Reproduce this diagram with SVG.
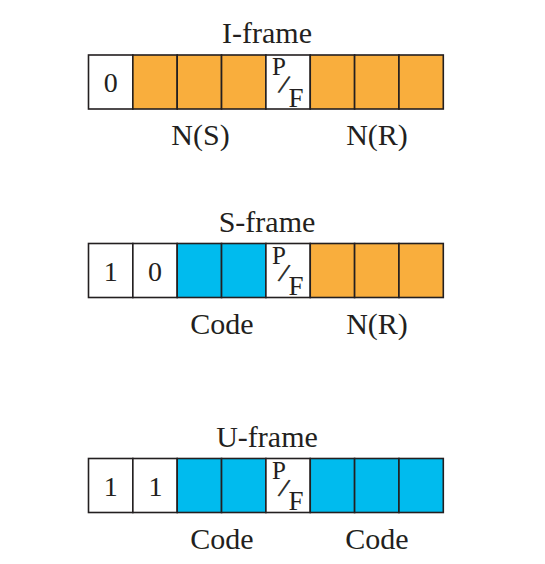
<svg xmlns="http://www.w3.org/2000/svg" width="545" height="564" viewBox="0 0 545 564">
<style>
text{font-family:"Liberation Serif","Times New Roman",serif;font-size:30px;fill:#231f20;text-anchor:middle}
.d{font-size:28px}
.p{font-size:25px}
.f{font-size:27px}
.s{font-size:27px;stroke:#231f20;stroke-width:0.5}
.c{stroke:#231f20;stroke-width:1.6}
.w{fill:#ffffff}
.o{fill:#f9ae3d}
.b{fill:#00bbee}
</style>
<defs>
<g id="pfmark">
<text class="p" x="279" y="20">P</text>
<text class="s" x="0" y="0" transform="translate(281.5,38) rotate(16)">/</text>
<text class="f" x="296" y="51.5">F</text>
</g>
</defs>
<rect width="545" height="564" fill="#ffffff"/>
<g id="iframe" transform="translate(0,55)">
<text x="267" y="-12">I-frame</text>
<rect class="c w" x="88.5" y="0" width="44.35" height="54"/>
<rect class="c o" x="132.85" y="0" width="44.35" height="54"/>
<rect class="c o" x="177.2" y="0" width="44.35" height="54"/>
<rect class="c o" x="221.55" y="0" width="44.35" height="54"/>
<rect class="c w" x="265.9" y="0" width="44.35" height="54"/>
<rect class="c o" x="310.25" y="0" width="44.35" height="54"/>
<rect class="c o" x="354.6" y="0" width="44.35" height="54"/>
<rect class="c o" x="398.95" y="0" width="44.35" height="54"/>
<text class="d" x="110.7" y="37">0</text>
<use href="#pfmark"/>
<text x="200.5" y="90">N(S)</text>
<text x="377" y="90">N(R)</text>
</g>
<g id="sframe" transform="translate(0,243.5)">
<text x="267" y="-12">S-frame</text>
<rect class="c w" x="88.5" y="0" width="44.35" height="54"/>
<rect class="c w" x="132.85" y="0" width="44.35" height="54"/>
<rect class="c b" x="177.2" y="0" width="44.35" height="54"/>
<rect class="c b" x="221.55" y="0" width="44.35" height="54"/>
<rect class="c w" x="265.9" y="0" width="44.35" height="54"/>
<rect class="c o" x="310.25" y="0" width="44.35" height="54"/>
<rect class="c o" x="354.6" y="0" width="44.35" height="54"/>
<rect class="c o" x="398.95" y="0" width="44.35" height="54"/>
<text class="d" x="110.7" y="37">1</text>
<text class="d" x="155" y="37">0</text>
<use href="#pfmark"/>
<text x="222" y="90">Code</text>
<text x="377" y="90">N(R)</text>
</g>
<g id="uframe" transform="translate(0,458.5)">
<text x="267" y="-12">U-frame</text>
<rect class="c w" x="88.5" y="0" width="44.35" height="54"/>
<rect class="c w" x="132.85" y="0" width="44.35" height="54"/>
<rect class="c b" x="177.2" y="0" width="44.35" height="54"/>
<rect class="c b" x="221.55" y="0" width="44.35" height="54"/>
<rect class="c w" x="265.9" y="0" width="44.35" height="54"/>
<rect class="c b" x="310.25" y="0" width="44.35" height="54"/>
<rect class="c b" x="354.6" y="0" width="44.35" height="54"/>
<rect class="c b" x="398.95" y="0" width="44.35" height="54"/>
<text class="d" x="110.7" y="37">1</text>
<text class="d" x="155.5" y="37">1</text>
<use href="#pfmark"/>
<text x="222" y="90">Code</text>
<text x="377" y="90">Code</text>
</g>
</svg>
